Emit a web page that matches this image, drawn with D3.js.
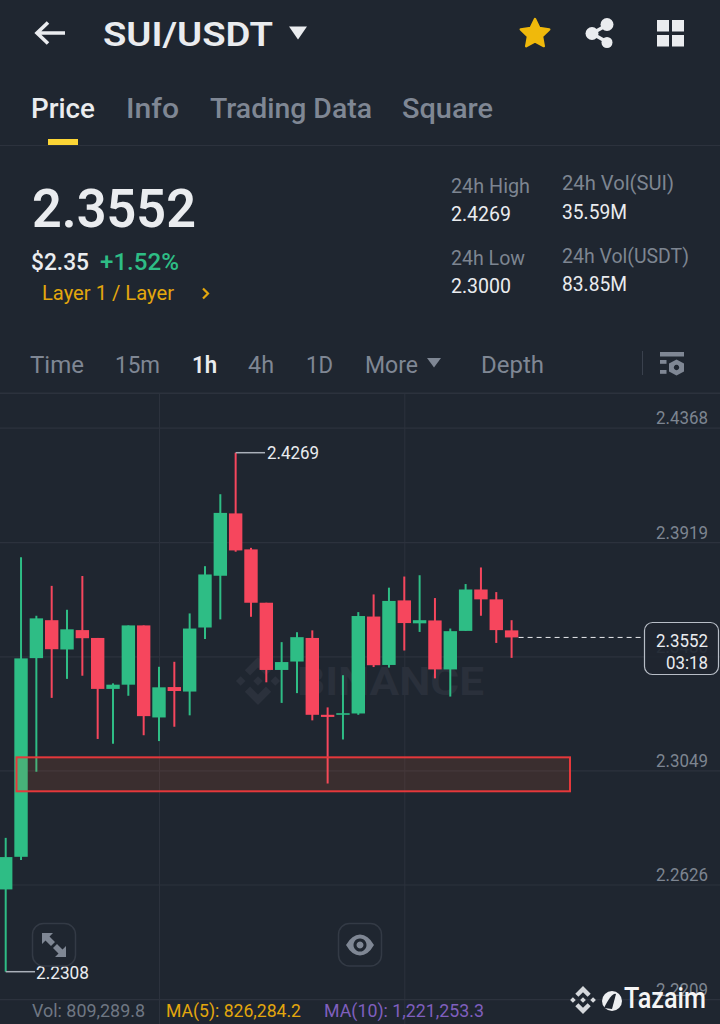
<!DOCTYPE html>
<html><head><meta charset="utf-8">
<script src="https://cdn.jsdelivr.net/npm/d3@7"></script>
<style>html,body{margin:0;padding:0;background:#1f2630;overflow:hidden}svg{display:block}text{font-family:Roboto,"Noto Sans",sans-serif}</style>
</head><body><svg id="c" width="720" height="1024"></svg>
<script>
const candleIndex = d3.range(34);
const opens  = [2.2608,2.2728,2.3473,2.3618,2.3506,2.3580,2.3550,2.3356,2.3372,2.3598,2.3248,2.3363,2.3346,2.3590,2.3789,2.4031,2.3891,2.3685,2.3428,2.3460,2.3550,2.3258,2.3258,2.3263,2.3632,2.3447,2.3694,2.3606,2.3617,2.3430,2.3577,2.3736,2.3698,2.3579];
const closes = [2.2727,2.3472,2.3625,2.3507,2.3583,2.3549,2.3356,2.3372,2.3598,2.3253,2.3362,2.3348,2.3586,2.3794,2.4033,2.3887,2.3685,2.3428,2.3458,2.3553,2.3258,2.3250,2.3264,2.3634,2.3446,2.3692,2.3607,2.3618,2.3430,2.3576,2.3736,2.3698,2.3580,2.3552];
const highs  = [2.2798,2.3861,2.3635,2.3750,2.3658,2.3788,2.3550,2.3377,2.3598,2.3598,2.3440,2.3459,2.3644,2.3826,2.4106,2.4269,2.3897,2.3685,2.3534,2.3572,2.3579,2.3286,2.3408,2.3649,2.3717,2.3743,2.3786,2.3791,2.3703,2.3586,2.3757,2.3821,2.3726,2.3618];
const lows   = [2.2308,2.2716,2.3044,2.3322,2.3394,2.3406,2.3167,2.3149,2.3330,2.3181,2.3159,2.3213,2.3256,2.3546,2.3621,2.3882,2.3631,2.3381,2.3303,2.3340,2.3237,2.3000,2.3165,2.3258,2.3439,2.3437,2.3502,2.3573,2.3396,2.3327,2.3577,2.3635,2.3531,2.3474];
const priceTicks = [2.4368,2.3919,2.3480,2.3049,2.2626,2.2209];
const timeGridTicks = [10,26];
const zoneBounds = [2.3098,2.2971];
const lastPrice = 2.3552, highMark = 2.4269, lowMark = 2.2308;

const GREEN="#2ebd85", RED="#f6465d", GRID="#2c323d", MUTED="#7d8591", TAB="#7f8794", WHITE="#eaecef", GOLD="#e3a70d", BG="#1f2630";
const svg = d3.select("#c");
svg.append("rect").attr("width",720).attr("height",1024).attr("fill",BG);

const y = d3.scaleLog().domain([lowMark,highMark]).range([971.7,452.7]);
const x = d3.scaleLinear().domain([0,33]).range([5.7,511.6]);
const bodyW = 13.4;

function txt(g,s,px,base,size,fill,weight,width,anchor){
  const t=g.append("text").attr("x",px).attr("y",base).attr("font-size",size).attr("fill",fill).attr("font-weight",weight||400).text(s);
  if(width){t.attr("textLength",width).attr("lengthAdjust","spacingAndGlyphs");}
  if(anchor)t.attr("text-anchor",anchor);
  return t;
}
const ui = svg.append("g");

// header
ui.append("path").attr("d","M65 33H38M48 22.5L37 33L48 43.5").attr("fill","none").attr("stroke",WHITE).attr("stroke-width",3.6);
txt(ui,"SUI/USDT",103,46,32.5,WHITE,600,170);
ui.append("path").attr("d","M289 26.5H307L298 39.5Z").attr("fill",WHITE);
// star
const star = d3.range(10).map(i=>{const r=i%2?7.4:15,a=-Math.PI/2+i*Math.PI/5;return [535+r*Math.cos(a),34+r*Math.sin(a)];});
ui.append("path").attr("d",d3.line()(star)+"Z").attr("fill","#f0b90b").attr("stroke","#f0b90b").attr("stroke-width",2.4).attr("stroke-linejoin","round");
// share
ui.append("path").attr("d","M607 25L592 33.5L607 42").attr("stroke",WHITE).attr("stroke-width",3.5).attr("fill","none");
[[607,24.5,6.5],[592,33.5,6.5],[607,42.5,5.5]].forEach(c=>ui.append("circle").attr("cx",c[0]).attr("cy",c[1]).attr("r",c[2]).attr("fill",WHITE));
// grid icon
[[657,20],[672,20],[657,35],[672,35]].forEach(c=>ui.append("rect").attr("x",c[0]).attr("y",c[1]).attr("width",12).attr("height",11.5).attr("fill",WHITE));

// tabs
txt(ui,"Price",31,118,27,WHITE,500,64);
txt(ui,"Info",126,118,27,TAB,500,53);
txt(ui,"Trading Data",210,118,27,TAB,500,162);
txt(ui,"Square",402,118,27,TAB,500,91);
ui.append("rect").attr("x",48).attr("y",139).attr("width",30).attr("height",6).attr("fill","#fcd535");
ui.append("rect").attr("x",0).attr("y",145).attr("width",720).attr("height",1).attr("fill",GRID);

// price block
txt(ui,"2.3552",32,227,54,WHITE,600,164);
txt(ui,"$2.35",31,270,24,WHITE,500,58);
txt(ui,"+1.52%",100,270,24,GREEN,500,79);
txt(ui,"Layer 1 / Layer",42,300,20.5,GOLD,400,132);
ui.append("path").attr("d","M203 288.5L208 293.5L203 298.5").attr("fill","none").attr("stroke",GOLD).attr("stroke-width",2.2);
txt(ui,"24h High",451,193,20,MUTED,400,79);
txt(ui,"2.4269",451,221,20,WHITE,400,60);
txt(ui,"24h Low",451,265,20,MUTED,400,74);
txt(ui,"2.3000",451,293,20,WHITE,400,60);
txt(ui,"24h Vol(SUI)",562,190,20,MUTED,400,112);
txt(ui,"35.59M",562,219,20,WHITE,400,65);
txt(ui,"24h Vol(USDT)",562,263,20,MUTED,400,127);
txt(ui,"83.85M",562,291,20,WHITE,400,65);

// interval row
[["Time",30,54],["15m",115,45],["4h",248,26],["1D",306,27],["More",365,53],["Depth",481,63]].forEach(d=>txt(ui,d[0],d[1],373,24,TAB,400,d[2]));
txt(ui,"1h",192,373,24,WHITE,600,25);
ui.append("path").attr("d","M427 358H441L434 367.5Z").attr("fill",TAB);
ui.append("rect").attr("x",642).attr("y",351).attr("width",1).attr("height",24).attr("fill","#3a414d");
ui.append("rect").attr("x",660).attr("y",352).attr("width",24).attr("height",4.5).attr("fill",TAB);
ui.append("rect").attr("x",660).attr("y",360).attr("width",6.5).attr("height",3.8).attr("fill",TAB);
ui.append("rect").attr("x",660).attr("y",370).attr("width",6.5).attr("height",3.8).attr("fill",TAB);
ui.append("path").attr("fill-rule","evenodd").attr("fill",TAB).attr("d","M676.5 359.5L684 363.5V371.5L676.5 375.5L669 371.5V363.5ZM676.5 364.8a2.7 2.7 0 1 0 .01 0Z");
ui.append("rect").attr("x",0).attr("y",392.5).attr("width",720).attr("height",1.5).attr("fill",GRID);

// grid + axes
const gridTop=394, gridBottom=1024;
const gx = svg.append("g").attr("transform",`translate(0,${gridTop})`)
  .call(d3.axisBottom(x).tickValues(timeGridTicks).tickSizeOuter(0).tickSizeInner(gridBottom-gridTop).tickFormat(""));
gx.select(".domain").remove();
gx.selectAll("line").attr("stroke",GRID).attr("stroke-width",1);

const gy = svg.append("g").attr("transform","translate(720,0)")
  .call(d3.axisLeft(y).tickValues(priceTicks).tickSizeOuter(0).tickSizeInner(720).tickFormat(d3.format(".4f")));
gy.select(".domain").remove();
gy.selectAll("line").attr("stroke",GRID).attr("stroke-width",1.2);
gy.selectAll("text").attr("x",-12).attr("y",-4).attr("dy",0).attr("font-size",18).attr("fill",MUTED)
  .attr("font-family","Roboto").attr("textLength",52).attr("lengthAdjust","spacingAndGlyphs");

// watermark
function binanceLogo(g,cx,cy,s,fill){
  const sq=(px,py,r)=>g.append("path").attr("d",`M${cx+px*s} ${cy+(py-r)*s}L${cx+(px+r)*s} ${cy+py*s}L${cx+px*s} ${cy+(py+r)*s}L${cx+(px-r)*s} ${cy+py*s}Z`).attr("fill",fill);
  sq(0,0,.2); sq(-.72,0,.2); sq(.72,0,.2);
  g.append("path").attr("fill",fill).attr("d",`M${cx} ${cy-1*s}L${cx+.55*s} ${cy-.45*s}L${cx+.33*s} ${cy-.23*s}L${cx} ${cy-.56*s}L${cx-.33*s} ${cy-.23*s}L${cx-.55*s} ${cy-.45*s}Z`);
  g.append("path").attr("fill",fill).attr("d",`M${cx} ${cy+1*s}L${cx+.55*s} ${cy+.45*s}L${cx+.33*s} ${cy+.23*s}L${cx} ${cy+.56*s}L${cx-.33*s} ${cy+.23*s}L${cx-.55*s} ${cy+.45*s}Z`);
}
const wm = svg.append("g");
binanceLogo(wm,258,681,24,"#2b313c");
txt(wm,"BINANCE",297,694.5,38,"#2a303b",700,187);

// candles
const cg = svg.append("g");
const row = candleIndex.map(i=>({i,o:opens[i],c:closes[i],h:highs[i],l:lows[i]}));
const sel = cg.selectAll("g").data(row).join("g");
sel.append("line").attr("x1",d=>x(d.i)).attr("x2",d=>x(d.i)).attr("y1",d=>y(d.h)).attr("y2",d=>y(d.l))
  .attr("stroke",d=>d.c>=d.o?GREEN:RED).attr("stroke-width",2);
sel.append("rect").attr("x",d=>x(d.i)-bodyW/2).attr("width",bodyW)
  .attr("y",d=>y(Math.max(d.o,d.c))).attr("height",d=>Math.max(1.5,Math.abs(y(d.o)-y(d.c))))
  .attr("fill",d=>d.c>=d.o?GREEN:RED);

// zone
svg.append("rect").attr("x",16.5).attr("width",553.5)
  .attr("y",y(zoneBounds[0])).attr("height",y(zoneBounds[1])-y(zoneBounds[0]))
  .attr("fill","rgba(240,100,45,0.13)").attr("stroke","#e5383b").attr("stroke-width",2);

// high / low leaders
const lead = svg.append("g");
lead.append("line").attr("x1",x(15)).attr("x2",265).attr("y1",y(highMark)).attr("y2",y(highMark)).attr("stroke","#aab0ba").attr("stroke-width",1.5);
txt(lead,d3.format(".4f")(highMark),267,459,18,WHITE,400,52);
lead.append("line").attr("x1",x(0)).attr("x2",35).attr("y1",y(lowMark)).attr("y2",y(lowMark)).attr("stroke","#aab0ba").attr("stroke-width",1.5);
txt(lead,d3.format(".4f")(lowMark),36,979,18,WHITE,400,53);

// last price
lead.append("line").attr("x1",x(33)+7).attr("x2",644).attr("y1",y(lastPrice)).attr("y2",y(lastPrice))
  .attr("stroke","#eaecef").attr("stroke-width",1).attr("stroke-dasharray","5 4");
lead.append("rect").attr("x",644.5).attr("y",622.5).attr("width",74).attr("height",52).attr("rx",8)
  .attr("fill","rgba(31,38,48,0.9)").attr("stroke","#b7bdc6").attr("stroke-width",1.2);
txt(lead,d3.format(".4f")(lastPrice),656,647,18,WHITE,400,52);
txt(lead,"03:18",666,668.5,18,WHITE,400,42);

// floating buttons
const btn = svg.append("g");
[[32.5,923.5],[338.5,923.5]].forEach(p=>btn.append("rect").attr("x",p[0]).attr("y",p[1]).attr("width",43).attr("height",42.5).attr("rx",11).attr("fill","none").attr("stroke","#333a45").attr("stroke-width",1.5));
btn.append("path").attr("fill","#7f8794").attr("d","M42 933H53L49.5 936.5L55 942L51 946L45.5 940.5L42 944ZM66 957H55L58.5 953.5L53 948L57 944L62.5 949.5L66 946Z");
btn.append("path").attr("fill","#7f8794").attr("fill-rule","evenodd").attr("d","M346 945Q352 934.5 360 934.5Q368 934.5 374 945Q368 955.5 360 955.5Q352 955.5 346 945ZM360 938.5a6.5 6.5 0 1 0 .01 0ZM360 941.5a3.5 3.5 0 1 1 -.01 0Z");

// footer
txt(svg,"Vol: 809,289.8",32,1017,18,"#6f7783",400,113);
txt(svg,"MA(5): 826,284.2",166,1017,18,GOLD,400,135);
txt(svg,"MA(10): 1,221,253.3",324,1017,18,"#7f5fbe",400,160);

// source mark
const tz = svg.append("g");
binanceLogo(tz,583,1000,14,"#d5d8dc");
tz.append("circle").attr("cx",612).attr("cy",1001).attr("r",10).attr("fill","#eef0f2");
tz.append("path").attr("d","M604 1008Q612 992 616 994L612 1009Z").attr("fill",BG);
txt(tz,"Tazaim",624,1008,29,"#f5f5f5",500,82);
</script></body></html>
